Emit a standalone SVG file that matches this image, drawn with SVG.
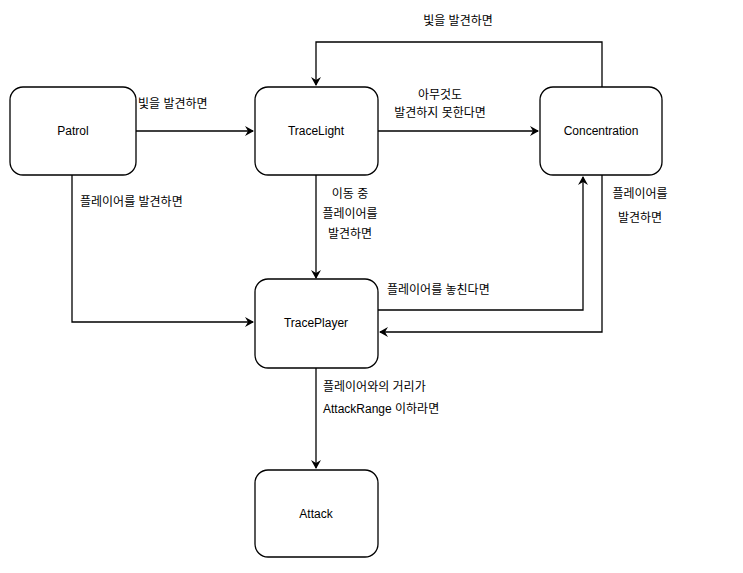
<svg xmlns="http://www.w3.org/2000/svg" width="743" height="573" viewBox="0 0 743 573">
<style>
.n{fill:#fff;stroke:#000;stroke-width:1.3}
.t{font-family:"Liberation Sans","Noto Sans CJK KR",sans-serif;font-size:12px;fill:#000;text-anchor:middle}
.l{font-family:"Liberation Sans","Noto Sans CJK KR",sans-serif;font-size:12px;fill:#000}
.c{fill:none;stroke:#000;stroke-width:1.3;marker-end:url(#a)}
</style>
<defs><marker id="a" markerWidth="10" markerHeight="10" refX="8" refY="5" orient="auto" markerUnits="userSpaceOnUse"><path d="M0,0 L9,5 L0,10 L3,5 Z" fill="#000"/></marker></defs>
<rect width="743" height="573" fill="#fff"/>
<g id="connectors">
<path class="c" d="M136,131 H253"/>
<path class="c" d="M378,131 H538"/>
<path class="c" d="M602,87 V42 H316 V85"/>
<path class="c" d="M316,175 V278"/>
<path class="c" d="M72,175 V322 H253"/>
<path class="c" d="M378,310 H583 V177"/>
<path class="c" d="M602,175 V332 H380"/>
<path class="c" d="M316,368 V468"/>
</g>
<g id="labels">
<text class="l" x="138" y="108">빛을 발견하면</text>
<text class="t" x="440" y="99">아무것도</text>
<text class="t" x="440" y="117">발견하지 못한다면</text>
<text class="t" x="458" y="25">빛을 발견하면</text>
<text class="t" x="350" y="198">이동 중</text>
<text class="t" x="350" y="218">플레이어를</text>
<text class="t" x="350" y="238">발견하면</text>
<text class="l" x="80" y="206">플레이어를 발견하면</text>
<text class="l" x="387" y="294">플레이어를 놓친다면</text>
<text class="t" x="640" y="198">플레이어를</text>
<text class="t" x="640" y="222">발견하면</text>
<text class="l" x="323" y="391">플레이어와의 거리가</text>
<text class="l" x="323" y="413">AttackRange 이하라면</text>
</g>
<g id="Patrol"><rect class="n" x="10" y="87" width="126" height="88" rx="13"/><text class="t" x="73" y="135">Patrol</text></g>
<g id="TraceLight"><rect class="n" x="255" y="87" width="123" height="88" rx="13"/><text class="t" x="316" y="135">TraceLight</text></g>
<g id="Concentration"><rect class="n" x="540" y="87" width="122" height="88" rx="13"/><text class="t" x="601" y="135">Concentration</text></g>
<g id="TracePlayer"><rect class="n" x="255" y="279" width="123" height="89" rx="13"/><text class="t" x="316" y="327">TracePlayer</text></g>
<g id="Attack"><rect class="n" x="255" y="470" width="123" height="87" rx="13"/><text class="t" x="316" y="518">Attack</text></g>
</svg>
